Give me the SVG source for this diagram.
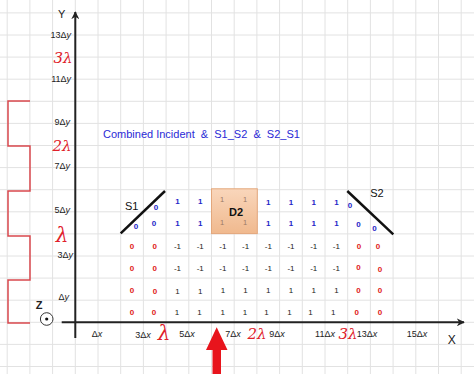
<svg xmlns="http://www.w3.org/2000/svg" width="474" height="374" viewBox="0 0 474 374">
<defs>
<marker id="ah" viewBox="0 0 10 10" refX="9" refY="5" markerWidth="4" markerHeight="4" orient="auto"><path d="M0,0 L10,5 L0,10 L3,5 z" fill="#222"/></marker>
<linearGradient id="d2g" x1="0" y1="0" x2="0" y2="1"><stop offset="0" stop-color="#f9d6bb"/><stop offset="1" stop-color="#f0b98e"/></linearGradient>
<style>
.grid line{stroke:#e2e2e2;stroke-width:1}
.ax{stroke:#222;stroke-width:2;fill:none}
.lbl{font-family:"Liberation Sans",Arial,sans-serif;font-size:9px;fill:#222}
.lbl tspan.i{font-style:italic}
.lam{font-family:"DejaVu Serif","Liberation Serif",serif;font-style:italic;fill:#e0202a;text-anchor:middle}
.n{font-family:"Liberation Sans",Arial,sans-serif;font-size:8px;text-anchor:middle}
.b{fill:#2525c8;font-weight:bold}
.r{fill:#e02020;font-weight:bold}
.k{fill:#222}
.s{font-family:"Liberation Sans",Arial,sans-serif;font-size:11px;fill:#111;text-anchor:middle}
</style>
</defs>
<rect width="474" height="374" fill="#fff"/>
<g class="grid" id="grid">
<line x1="7.2" y1="0" x2="7.2" y2="374"/><line x1="29.9" y1="0" x2="29.9" y2="374"/><line x1="52.6" y1="0" x2="52.6" y2="374"/><line x1="75.3" y1="0" x2="75.3" y2="374"/><line x1="98" y1="0" x2="98" y2="374"/><line x1="120.7" y1="0" x2="120.7" y2="374"/><line x1="143.4" y1="0" x2="143.4" y2="374"/><line x1="166.1" y1="0" x2="166.1" y2="374"/><line x1="188.8" y1="0" x2="188.8" y2="374"/><line x1="211.5" y1="0" x2="211.5" y2="374"/><line x1="234.2" y1="0" x2="234.2" y2="374"/><line x1="256.9" y1="0" x2="256.9" y2="374"/><line x1="279.6" y1="0" x2="279.6" y2="374"/><line x1="302.3" y1="0" x2="302.3" y2="374"/><line x1="325" y1="0" x2="325" y2="374"/><line x1="347.7" y1="0" x2="347.7" y2="374"/><line x1="370.4" y1="0" x2="370.4" y2="374"/><line x1="393.1" y1="0" x2="393.1" y2="374"/><line x1="415.8" y1="0" x2="415.8" y2="374"/><line x1="438.5" y1="0" x2="438.5" y2="374"/><line x1="461.2" y1="0" x2="461.2" y2="374"/>
<line x1="0" y1="12.9" x2="474" y2="12.9"/><line x1="0" y1="35" x2="474" y2="35"/><line x1="0" y1="57.1" x2="474" y2="57.1"/><line x1="0" y1="79.2" x2="474" y2="79.2"/><line x1="0" y1="101.3" x2="474" y2="101.3"/><line x1="0" y1="123.4" x2="474" y2="123.4"/><line x1="0" y1="145.5" x2="474" y2="145.5"/><line x1="0" y1="167.6" x2="474" y2="167.6"/><line x1="0" y1="189.7" x2="474" y2="189.7"/><line x1="0" y1="211.8" x2="474" y2="211.8"/><line x1="0" y1="233.9" x2="474" y2="233.9"/><line x1="0" y1="256" x2="474" y2="256"/><line x1="0" y1="278.1" x2="474" y2="278.1"/><line x1="0" y1="300.2" x2="474" y2="300.2"/><line x1="0" y1="322.3" x2="474" y2="322.3"/><line x1="0" y1="344.4" x2="474" y2="344.4"/><line x1="0" y1="366.5" x2="474" y2="366.5"/>
</g>
<g id="wave"><path d="M30,101 H8 V146 H30 V191 H8 V236 H30 V280 H8 V323 H30" fill="none" stroke="#d9484d" stroke-width="1.5"/></g>
<g id="connectors">
<line class="ax" x1="75.3" y1="338" x2="75.3" y2="12" marker-end="url(#ah)"/>
<line class="ax" x1="61.7" y1="322.3" x2="464" y2="322.3" marker-end="url(#ah)"/>
</g>
<g id="axis-labels">
<text class="lbl" x="61.7" y="18" style="font-size:11px" text-anchor="middle">Y</text>
<text class="lbl" x="451.7" y="344" style="font-size:12px" text-anchor="middle">X</text>
<text class="lbl" x="71" y="37.5" text-anchor="end">13Δ<tspan class="i">y</tspan></text>
<text class="lbl" x="71" y="81.5" text-anchor="end">11Δ<tspan class="i">y</tspan></text>
<text class="lbl" x="70" y="125" text-anchor="end">9Δ<tspan class="i">y</tspan></text>
<text class="lbl" x="70" y="168.5" text-anchor="end">7Δ<tspan class="i">y</tspan></text>
<text class="lbl" x="70" y="212.5" text-anchor="end">5Δ<tspan class="i">y</tspan></text>
<text class="lbl" x="73" y="257.5" text-anchor="end">3Δ<tspan class="i">y</tspan></text>
<text class="lbl" x="69" y="300" text-anchor="end">Δ<tspan class="i">y</tspan></text>
<text class="lbl" x="97" y="337" text-anchor="middle">Δ<tspan class="i">x</tspan></text>
<text class="lbl" x="143" y="338" text-anchor="middle">3Δ<tspan class="i">x</tspan></text>
<text class="lbl" x="187" y="337" text-anchor="middle">5Δ<tspan class="i">x</tspan></text>
<text class="lbl" x="233" y="337" text-anchor="middle">7Δ<tspan class="i">x</tspan></text>
<text class="lbl" x="277" y="337" text-anchor="middle">9Δ<tspan class="i">x</tspan></text>
<text class="lbl" x="325" y="337" text-anchor="middle">11Δ<tspan class="i">x</tspan></text>
<text class="lbl" x="367" y="337" text-anchor="middle">13Δ<tspan class="i">x</tspan></text>
<text class="lbl" x="417" y="337" text-anchor="middle">15Δ<tspan class="i">x</tspan></text>
<text class="lam" x="63" y="62.5" font-size="15">3λ</text>
<text class="lam" x="62" y="150.5" font-size="15">2λ</text>
<text class="lam" x="62" y="242" font-size="20">λ</text>
<text class="lam" x="164" y="340" font-size="20">λ</text>
<text class="lam" x="257" y="338.5" font-size="15">2λ</text>
<text class="lam" x="348" y="338.5" font-size="15">3λ</text>
</g>
<g id="z-axis">
<text class="lbl" x="39" y="309" style="font-size:11px;font-weight:bold" text-anchor="middle">Z</text>
<circle cx="46.7" cy="319" r="6.3" fill="#fff" stroke="#333" stroke-width="1"/>
<circle cx="46.7" cy="319" r="1.6" fill="#111"/>
</g>
<g id="title"><text x="103" y="138" style="font-family:'Liberation Sans',Arial,sans-serif;font-size:11px;fill:#2a2ad6" xml:space="preserve">Combined Incident  &amp;  S1_S2  &amp;  S2_S1</text></g>
<g id="numbers">
<text class="n b" x="156" y="209.5">0</text>
<text class="n b" x="177.5" y="203.5">1</text><text class="n b" x="200.2" y="203.5">1</text>
<text class="n b" x="268.3" y="205">1</text><text class="n b" x="291" y="205">1</text><text class="n b" x="313.7" y="205">1</text><text class="n b" x="336.4" y="205">1</text>
<text class="n b" x="350" y="208">0</text>
<text class="n b" x="136" y="228.5">0</text><text class="n b" x="154" y="226">0</text>
<text class="n b" x="177.5" y="226">1</text><text class="n b" x="200.2" y="226">1</text>
<text class="n b" x="268.3" y="226">1</text><text class="n b" x="291" y="226">1</text><text class="n b" x="313.7" y="226">1</text><text class="n b" x="336.4" y="226">1</text>
<text class="n b" x="358.5" y="227">0</text><text class="n b" x="374.5" y="231">0</text>
<text class="n r" x="132" y="248.5">0</text><text class="n r" x="154.8" y="248.5">0</text>
<text class="n k" x="177.5" y="248.5">-1</text><text class="n k" x="200.2" y="248.5">-1</text><text class="n k" x="222.9" y="248.5">-1</text><text class="n k" x="245.6" y="248.5">-1</text><text class="n k" x="268.3" y="248.5">-1</text><text class="n k" x="291" y="248.5">-1</text><text class="n k" x="313.7" y="248.5">-1</text><text class="n k" x="336.4" y="248.5">-1</text>
<text class="n r" x="359" y="248.5">0</text><text class="n r" x="378" y="248.5">0</text>
<text class="n r" x="132" y="270.5">0</text><text class="n r" x="154.8" y="270.5">0</text>
<text class="n k" x="177.5" y="270.5">-1</text><text class="n k" x="200.2" y="270.5">-1</text><text class="n k" x="222.9" y="270.5">-1</text><text class="n k" x="245.6" y="270.5">-1</text><text class="n k" x="268.3" y="270.5">-1</text><text class="n k" x="291" y="270.5">-1</text><text class="n k" x="313.7" y="270.5">-1</text><text class="n k" x="336.4" y="270.5">-1</text>
<text class="n r" x="358.5" y="270">0</text><text class="n r" x="380" y="271.5">0</text>
<text class="n r" x="132" y="292.5">0</text><text class="n r" x="155" y="294">0</text>
<text class="n k" x="177.5" y="294">1</text><text class="n k" x="200.2" y="294">1</text><text class="n k" x="222.9" y="293">1</text><text class="n k" x="245.6" y="293">1</text><text class="n k" x="268.3" y="293">1</text><text class="n k" x="291" y="293">1</text><text class="n k" x="313.7" y="293">1</text><text class="n k" x="336.4" y="293">1</text>
<text class="n r" x="358.5" y="293">0</text><text class="n r" x="380" y="293">0</text>
<text class="n r" x="132" y="314.5">0</text><text class="n r" x="154" y="315">0</text>
<text class="n k" x="177" y="315">1</text><text class="n k" x="199.5" y="315">1</text><text class="n k" x="222.7" y="315">1</text><text class="n k" x="245" y="315">1</text><text class="n k" x="266.5" y="315">1</text><text class="n k" x="289.5" y="315">1</text><text class="n k" x="310.5" y="315">1</text><text class="n k" x="333.3" y="315">1</text>
<text class="n r" x="356.7" y="315">0</text><text class="n r" x="380" y="315">0</text>
</g>
<g id="D2">
<rect x="211.5" y="188.8" width="45.8" height="44.8" fill="url(#d2g)" stroke="#e3a77c" stroke-width="1"/>
<text class="n" x="222" y="202" style="fill:#9a7a66;font-size:7.5px">1</text>
<text class="n" x="245" y="202" style="fill:#9a7a66;font-size:7.5px">1</text>
<text class="n" x="222" y="225" style="fill:#9a7a66;font-size:7.5px">1</text>
<text class="n" x="245" y="225" style="fill:#9a7a66;font-size:7.5px">1</text>
<text x="236" y="215.5" style="font-family:'Liberation Sans',Arial,sans-serif;font-size:11px;font-weight:bold;fill:#111" text-anchor="middle">D2</text>
</g>
<g id="S1">
<line x1="120.7" y1="233.3" x2="165" y2="191" stroke="#111" stroke-width="2.5"/>
<text class="s" x="131.7" y="209.5">S1</text>
</g>
<g id="S2">
<line x1="347.3" y1="191" x2="393.3" y2="234.3" stroke="#111" stroke-width="2.5"/>
<text class="s" x="377" y="197">S2</text>
</g>
<g id="source-arrow">
<path d="M216.7,327.3 L227.5,350 L221,350 L221,374 L212.5,374 L212.5,350 L206,350 Z" fill="#e8141c"/>
</g>
</svg>
